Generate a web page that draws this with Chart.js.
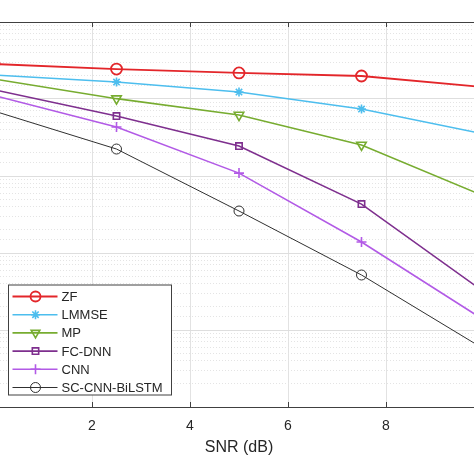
<!DOCTYPE html>
<html>
<head>
<meta charset="UTF-8">
<title>BER vs SNR</title>
<script src="https://cdn.jsdelivr.net/npm/chart.js@4.4.0/dist/chart.umd.min.js"></script>
<style>
  html, body { margin: 0; padding: 0; background: #fff; overflow: hidden; width: 474px; height: 474px; }
  #chart { position: absolute; left: -30px; top: 0; }
</style>
</head>
<body>
<canvas id="chart" width="540" height="474"></canvas>
<script>
// SNR (dB) points
const snr = [0, 2.5, 5, 7.5, 10];

// BER (log axis, 1e-5 .. 1)
const zf     = [0.285, 0.245, 0.218, 0.199, 0.143];
const lmmse  = [0.205, 0.166, 0.123, 0.0741, 0.0351];
const mp     = [0.182, 0.101, 0.0619, 0.0253, 0.0055];
const fcdnn  = [0.132, 0.0601, 0.0245, 0.00432, 0.000312];
const cnn    = [0.111, 0.0433, 0.0109, 0.00139, 0.000135];
const sccnn  = [0.0698, 0.0224, 0.00351, 0.000518, 0.0000566];

const labels = ['ZF', 'LMMSE', 'MP', 'FC-DNN', 'CNN', 'SC-CNN-BiLSTM'];
const xTicks = [0, 2, 4, 6, 8, 10];

const FONT = '"Liberation Sans", Arial, sans-serif';
const TEXT = '#262626';

function series(label, values, color, style, radius, width, rotation) {
    return {
        label: label,
        data: values.map((v, i) => ({ x: snr[i], y: v })),
        borderColor: color,
        backgroundColor: 'rgba(0,0,0,0)',
        borderWidth: width,
        pointStyle: style,
        pointRadius: radius,
        pointBorderWidth: width,
        pointBorderColor: color,
        pointBackgroundColor: 'rgba(0,0,0,0)',
        pointRotation: rotation || 0,
        tension: 0,
        fill: false
    };
}

// frame on top + inner ticks, like a boxed axis
const framePlugin = {
    id: 'frame',
    beforeDatasetsDraw(chart) {
        const ctx = chart.ctx, a = chart.chartArea, xs = chart.scales.x;
        ctx.save();
        ctx.strokeStyle = '#404040';
        ctx.lineWidth = 1;
        ctx.beginPath();
        ctx.moveTo(a.left, a.top + 0.5);
        ctx.lineTo(a.right, a.top + 0.5);
        xTicks.forEach(t => {
            const px = Math.round(xs.getPixelForValue(t)) + 0.5;
            ctx.moveTo(px, a.top);
            ctx.lineTo(px, a.top + 5);
            ctx.moveTo(px, a.bottom);
            ctx.lineTo(px, a.bottom - 5);
        });
        ctx.stroke();
        ctx.restore();
    }
};

// legend box drawn inside the plot, bottom-left
const boxLegend = {
    id: 'boxLegend',
    afterDraw(chart) {
        const ctx = chart.ctx, a = chart.chartArea;
        const left = a.left + 14.5, w = 163, h = 110;
        const top = a.bottom - 12 - h;
        const rowH = 18.2;
        ctx.save();
        ctx.fillStyle = '#fff';
        ctx.fillRect(left, top, w, h);
        ctx.strokeStyle = '#404040';
        ctx.lineWidth = 1;
        ctx.strokeRect(left, top, w, h);
        ctx.font = '13px ' + FONT;
        ctx.textBaseline = 'middle';
        chart.data.datasets.forEach((ds, i) => {
            const y = top + 11.5 + i * rowH;
            ctx.strokeStyle = ds.borderColor;
            ctx.lineWidth = ds.borderWidth;
            ctx.beginPath();
            ctx.moveTo(left + 4, y);
            ctx.lineTo(left + 49, y);
            ctx.stroke();
            ctx.fillStyle = 'rgba(0,0,0,0)';
            Chart.helpers.drawPoint(ctx, {
                pointStyle: ds.pointStyle,
                rotation: ds.pointRotation,
                radius: Math.min(ds.pointRadius, 5),
                borderWidth: ds.pointBorderWidth
            }, left + 27, y);
            ctx.fillStyle = TEXT;
            ctx.fillText(ds.label, left + 53, y + 1);
        });
        ctx.restore();
    }
};

const ctx = document.getElementById('chart').getContext('2d');
new Chart(ctx, {
    type: 'line',
    data: {
        datasets: [
            series(labels[0], zf,    '#e3262a', 'circle',   5.5, 1.8),
            series(labels[1], lmmse, '#4dbeee', 'star',     4.5, 1.6),
            series(labels[2], mp,    '#77ac30', 'triangle', 5.5, 1.6, 180),
            series(labels[3], fcdnn, '#7e2f8e', 'rect',     4.5, 1.6),
            series(labels[4], cnn,   '#b25ae6', 'cross',    5,   1.6),
            series(labels[5], sccnn, '#303030', 'circle',   5,   1.0)
        ]
    },
    options: {
        responsive: false,
        animation: false,
        layout: { padding: { left: 24, right: 26, top: 22, bottom: 0 } },
        plugins: { legend: { display: false }, tooltip: { enabled: false } },
        scales: {
            x: {
                type: 'linear',
                min: 0,
                max: 10,
                afterFit(s) { s.height = 67; },
                afterBuildTicks(s) { s.ticks = xTicks.map(v => ({ value: v })); },
                ticks: { color: TEXT, font: { family: FONT, size: 14 }, padding: 11 },
                grid: { color: '#e2e2e2', drawTicks: false },
                border: { color: '#404040', width: 1 },
                title: {
                    display: true,
                    text: 'SNR (dB)',
                    color: TEXT,
                    font: { family: FONT, size: 16 },
                    padding: { top: 4, bottom: 17 }
                }
            },
            y: {
                type: 'logarithmic',
                min: 1e-5,
                max: 1,
                afterFit(s) { s.width = 0; },
                ticks: { display: false, autoSkip: false },
                grid: {
                    drawTicks: false,
                    color(c) {
                        const v = c.tick ? c.tick.value : 1;
                        const e = Math.log10(v);
                        return Math.abs(e - Math.round(e)) < 1e-6 ? '#dedede' : '#e4e4e4';
                    }
                },
                border: {
                    display: false,
                    dash(c) {
                        const v = c.tick ? c.tick.value : 1;
                        const e = Math.log10(v);
                        return Math.abs(e - Math.round(e)) < 1e-6 ? [] : [1, 2];
                    }
                }
            }
        }
    },
    plugins: [framePlugin, boxLegend]
});
</script>
</body>
</html>
